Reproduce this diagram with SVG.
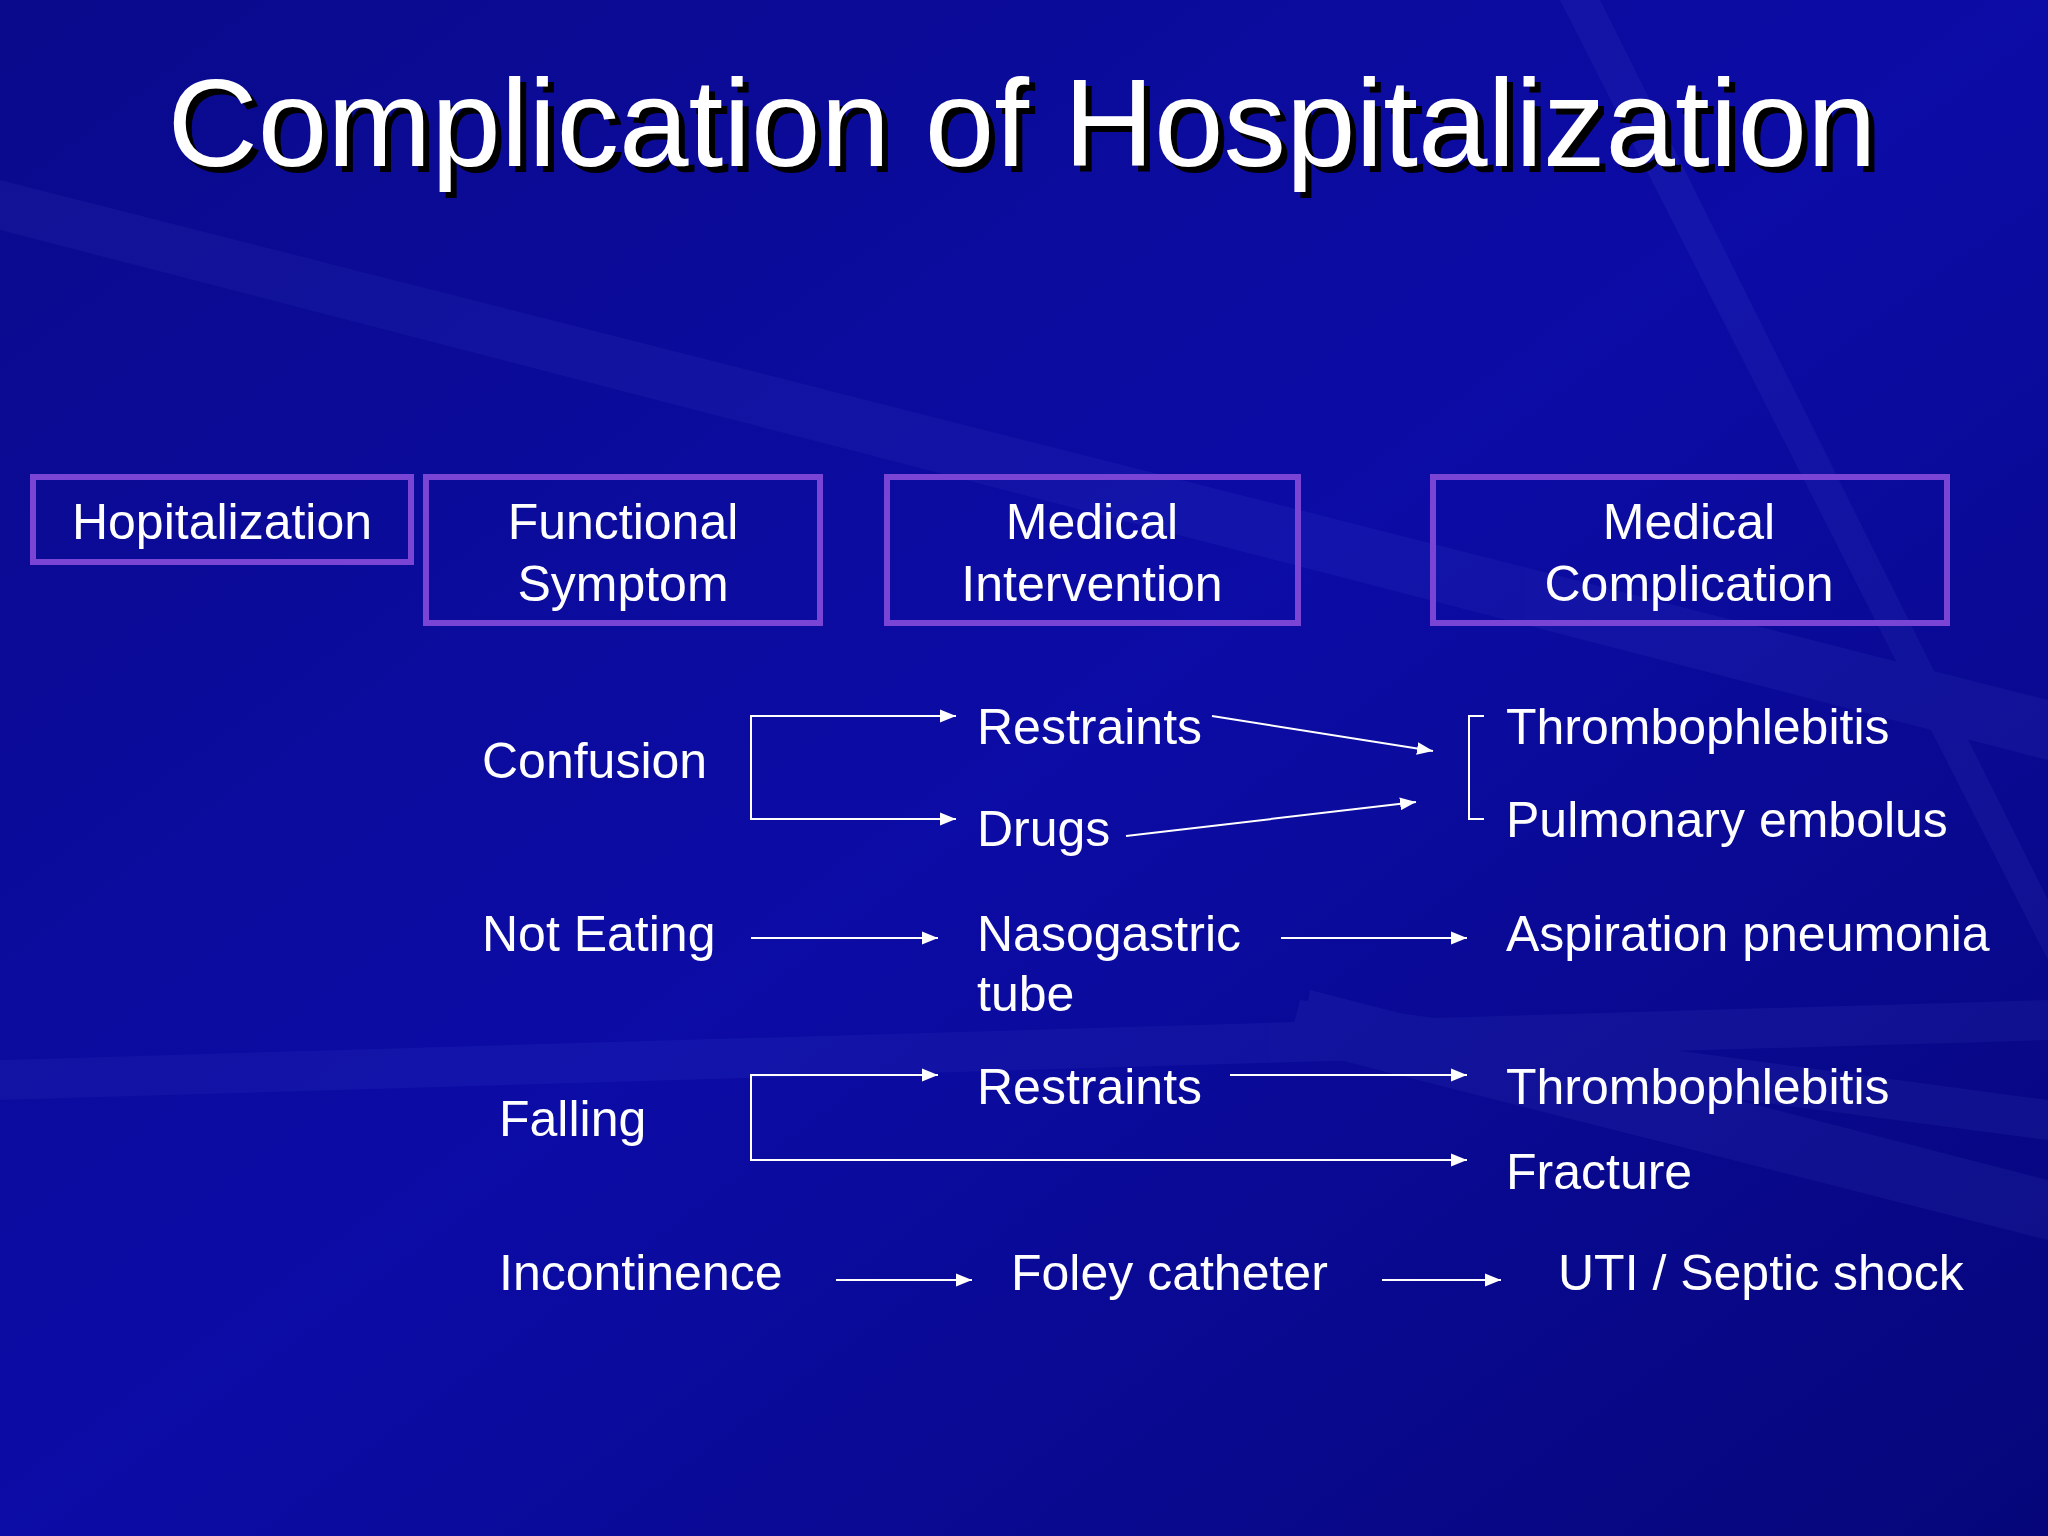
<svg xmlns="http://www.w3.org/2000/svg" width="2048" height="1536" viewBox="0 0 2048 1536">
<defs>
<linearGradient id="bg" x1="0" y1="0" x2="1" y2="1">
<stop offset="0" stop-color="#0a0a8c"/><stop offset="0.5" stop-color="#0c0ca6"/><stop offset="1" stop-color="#06067a"/>
</linearGradient>
<marker id="a" viewBox="0 0 10 10" refX="10" refY="5" markerWidth="8" markerHeight="8" orient="auto"><path d="M0,1 L10,5 L0,9 z" fill="#fff"/></marker>
</defs>
<style>
.t{font-family:"Liberation Sans",Arial,sans-serif;fill:#fff;font-size:50px}
.c{text-anchor:middle}
.ttl{font-size:125px}
.box{fill:none;stroke:#7a44d4;stroke-width:6}
.ln{fill:none;stroke:#fff;stroke-width:2;marker-end:url(#a)}
.br{fill:none;stroke:#fff;stroke-width:2}
</style>
<rect width="2048" height="1536" fill="url(#bg)"/>
<g opacity="0.06" fill="#8fa0ff">
<polygon points="0,180 2048,700 2048,760 0,230"/>
<polygon points="0,1060 2048,1000 2048,1040 0,1100"/>
<polygon points="1300,1000 2048,1100 2048,1140 1290,1040"/>
<polygon points="1310,990 2048,1180 2048,1240 1300,1050"/>
<polygon points="1600,0 2048,900 2048,960 1560,0"/>
</g>
<g id="title"><text x="1028" y="172" class="t c ttl" style="fill:#000">Complication of Hospitalization</text><text x="1022" y="166" class="t c ttl">Complication of Hospitalization</text></g>
<g id="n1"><rect class="box" x="33" y="477" width="378" height="85"/><text class="t c" x="222" y="539">Hopitalization</text></g>
<g id="n2"><rect class="box" x="426" y="477" width="394" height="146"/><text class="t c" x="623" y="539">Functional</text><text class="t c" x="623" y="601">Symptom</text></g>
<g id="n3"><rect class="box" x="887" y="477" width="411" height="146"/><text class="t c" x="1092" y="539">Medical</text><text class="t c" x="1092" y="601">Intervention</text></g>
<g id="n4"><rect class="box" x="1433" y="477" width="514" height="146"/><text class="t c" x="1689" y="539">Medical</text><text class="t c" x="1689" y="601">Complication</text></g>
<g id="labels">
<text class="t" x="482" y="778">Confusion</text>
<text class="t" x="977" y="744">Restraints</text>
<text class="t" x="977" y="846">Drugs</text>
<text class="t" x="1506" y="744">Thrombophlebitis</text>
<text class="t" x="1506" y="837">Pulmonary embolus</text>
<text class="t" x="482" y="951">Not Eating</text>
<text class="t" x="977" y="951">Nasogastric</text>
<text class="t" x="977" y="1011">tube</text>
<text class="t" x="1506" y="951">Aspiration pneumonia</text>
<text class="t" x="499" y="1136">Falling</text>
<text class="t" x="977" y="1104">Restraints</text>
<text class="t" x="1506" y="1104">Thrombophlebitis</text>
<text class="t" x="1506" y="1189">Fracture</text>
<text class="t" x="499" y="1290">Incontinence</text>
<text class="t" x="1011" y="1290">Foley catheter</text>
<text class="t" x="1558" y="1290">UTI / Septic shock</text>
</g>
<g id="connectors">
<path class="br" d="M956,716 H751 V819 H956"/>
<path class="ln" d="M940,716 H956"/>
<path class="ln" d="M940,819 H956"/>
<path class="ln" d="M1212,716 L1433,751"/>
<path class="ln" d="M1126,836 L1416,802"/>
<path class="br" d="M1484,716 H1469 V819 H1484"/>
<path class="ln" d="M751,938 H938"/>
<path class="ln" d="M1281,938 H1467"/>
<path class="br" d="M938,1075 H751 V1160 H1467"/>
<path class="ln" d="M920,1075 H938"/>
<path class="ln" d="M1450,1160 H1467"/>
<path class="ln" d="M1230,1075 H1467"/>
<path class="ln" d="M836,1280 H972"/>
<path class="ln" d="M1382,1280 H1501"/>
</g>
</svg>
